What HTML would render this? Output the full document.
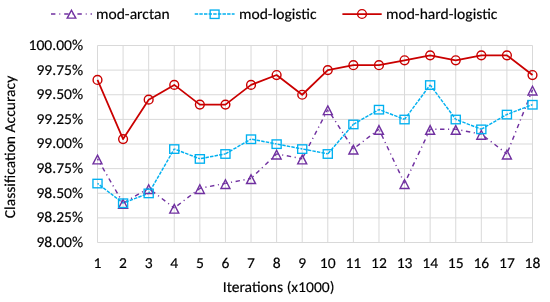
<!DOCTYPE html>
<html><head><meta charset="utf-8"><title>Classification Accuracy chart</title>
<style>html,body{margin:0;padding:0;background:#fff;width:550px;height:302px;overflow:hidden}svg{display:block}</style>
</head><body>
<svg width="550" height="302" viewBox="0 0 550 302"><g stroke="#D9D9D9" stroke-width="1" fill="none"><line x1="97.50" y1="45.50" x2="532.50" y2="45.50"/><line x1="97.50" y1="70.12" x2="532.50" y2="70.12"/><line x1="97.50" y1="94.75" x2="532.50" y2="94.75"/><line x1="97.50" y1="119.38" x2="532.50" y2="119.38"/><line x1="97.50" y1="144.00" x2="532.50" y2="144.00"/><line x1="97.50" y1="168.62" x2="532.50" y2="168.62"/><line x1="97.50" y1="193.25" x2="532.50" y2="193.25"/><line x1="97.50" y1="217.88" x2="532.50" y2="217.88"/><line x1="97.50" y1="242.50" x2="532.50" y2="242.50"/><line x1="97.50" y1="45.50" x2="97.50" y2="242.50"/><line x1="123.09" y1="45.50" x2="123.09" y2="242.50"/><line x1="148.68" y1="45.50" x2="148.68" y2="242.50"/><line x1="174.26" y1="45.50" x2="174.26" y2="242.50"/><line x1="199.85" y1="45.50" x2="199.85" y2="242.50"/><line x1="225.44" y1="45.50" x2="225.44" y2="242.50"/><line x1="251.03" y1="45.50" x2="251.03" y2="242.50"/><line x1="276.62" y1="45.50" x2="276.62" y2="242.50"/><line x1="302.21" y1="45.50" x2="302.21" y2="242.50"/><line x1="327.79" y1="45.50" x2="327.79" y2="242.50"/><line x1="353.38" y1="45.50" x2="353.38" y2="242.50"/><line x1="378.97" y1="45.50" x2="378.97" y2="242.50"/><line x1="404.56" y1="45.50" x2="404.56" y2="242.50"/><line x1="430.15" y1="45.50" x2="430.15" y2="242.50"/><line x1="455.74" y1="45.50" x2="455.74" y2="242.50"/><line x1="481.32" y1="45.50" x2="481.32" y2="242.50"/><line x1="506.91" y1="45.50" x2="506.91" y2="242.50"/><line x1="532.50" y1="45.50" x2="532.50" y2="242.50"/></g><g font-family='"Carlito","Liberation Sans",sans-serif' font-size="15.2" text-rendering="geometricPrecision" fill="#000000" stroke="#000000" stroke-width="0.16"><text x="83.10" y="49.90" text-anchor="end" textLength="54.60" lengthAdjust="spacingAndGlyphs">100.00%</text><text x="83.10" y="74.53" text-anchor="end" textLength="46.70" lengthAdjust="spacingAndGlyphs">99.75%</text><text x="83.10" y="99.15" text-anchor="end" textLength="46.70" lengthAdjust="spacingAndGlyphs">99.50%</text><text x="83.10" y="123.78" text-anchor="end" textLength="46.70" lengthAdjust="spacingAndGlyphs">99.25%</text><text x="83.10" y="148.40" text-anchor="end" textLength="46.70" lengthAdjust="spacingAndGlyphs">99.00%</text><text x="83.10" y="173.03" text-anchor="end" textLength="46.70" lengthAdjust="spacingAndGlyphs">98.75%</text><text x="83.10" y="197.65" text-anchor="end" textLength="46.70" lengthAdjust="spacingAndGlyphs">98.50%</text><text x="83.10" y="222.28" text-anchor="end" textLength="46.70" lengthAdjust="spacingAndGlyphs">98.25%</text><text x="83.10" y="246.90" text-anchor="end" textLength="46.70" lengthAdjust="spacingAndGlyphs">98.00%</text><text x="97.50" y="268.00" text-anchor="middle" textLength="7.90" lengthAdjust="spacingAndGlyphs">1</text><text x="123.09" y="268.00" text-anchor="middle" textLength="7.90" lengthAdjust="spacingAndGlyphs">2</text><text x="148.68" y="268.00" text-anchor="middle" textLength="7.90" lengthAdjust="spacingAndGlyphs">3</text><text x="174.26" y="268.00" text-anchor="middle" textLength="7.90" lengthAdjust="spacingAndGlyphs">4</text><text x="199.85" y="268.00" text-anchor="middle" textLength="7.90" lengthAdjust="spacingAndGlyphs">5</text><text x="225.44" y="268.00" text-anchor="middle" textLength="7.90" lengthAdjust="spacingAndGlyphs">6</text><text x="251.03" y="268.00" text-anchor="middle" textLength="7.90" lengthAdjust="spacingAndGlyphs">7</text><text x="276.62" y="268.00" text-anchor="middle" textLength="7.90" lengthAdjust="spacingAndGlyphs">8</text><text x="302.21" y="268.00" text-anchor="middle" textLength="7.90" lengthAdjust="spacingAndGlyphs">9</text><text x="327.79" y="268.00" text-anchor="middle" textLength="15.81" lengthAdjust="spacingAndGlyphs">10</text><text x="353.38" y="268.00" text-anchor="middle" textLength="15.81" lengthAdjust="spacingAndGlyphs">11</text><text x="378.97" y="268.00" text-anchor="middle" textLength="15.81" lengthAdjust="spacingAndGlyphs">12</text><text x="404.56" y="268.00" text-anchor="middle" textLength="15.81" lengthAdjust="spacingAndGlyphs">13</text><text x="430.15" y="268.00" text-anchor="middle" textLength="15.81" lengthAdjust="spacingAndGlyphs">14</text><text x="455.74" y="268.00" text-anchor="middle" textLength="15.81" lengthAdjust="spacingAndGlyphs">15</text><text x="481.32" y="268.00" text-anchor="middle" textLength="15.81" lengthAdjust="spacingAndGlyphs">16</text><text x="506.91" y="268.00" text-anchor="middle" textLength="15.81" lengthAdjust="spacingAndGlyphs">17</text><text x="532.50" y="268.00" text-anchor="middle" textLength="15.81" lengthAdjust="spacingAndGlyphs">18</text><text x="278.60" y="291.60" text-anchor="middle" textLength="111.74" lengthAdjust="spacingAndGlyphs">Iterations (x1000)</text><text transform="translate(15.20,147.00) rotate(-90)" text-anchor="middle" textLength="142.45" lengthAdjust="spacingAndGlyphs">Classification Accuracy</text><text x="96.00" y="18.80" textLength="73.61" lengthAdjust="spacingAndGlyphs">mod-arctan</text><text x="239.00" y="18.80" textLength="77.57" lengthAdjust="spacingAndGlyphs">mod-logistic</text><text x="386.00" y="18.80" textLength="111.42" lengthAdjust="spacingAndGlyphs">mod-hard-logistic</text></g><g fill="none" stroke="#7030A0" stroke-width="1.45" stroke-dasharray="4.4 3.6 1.1 3.6" stroke-dashoffset="1.40"><line x1="123.09" y1="203.10" x2="97.50" y2="158.78"/><line x1="148.68" y1="188.33" x2="123.09" y2="203.10"/><line x1="174.26" y1="208.03" x2="148.68" y2="188.33"/><line x1="199.85" y1="188.33" x2="174.26" y2="208.03"/><line x1="225.44" y1="183.40" x2="199.85" y2="188.33"/><line x1="251.03" y1="178.47" x2="225.44" y2="183.40"/><line x1="276.62" y1="153.85" x2="251.03" y2="178.47"/><line x1="302.21" y1="158.78" x2="276.62" y2="153.85"/><line x1="327.79" y1="109.53" x2="302.21" y2="158.78"/><line x1="353.38" y1="148.92" x2="327.79" y2="109.53"/><line x1="378.97" y1="129.22" x2="353.38" y2="148.92"/><line x1="404.56" y1="183.40" x2="378.97" y2="129.22"/><line x1="430.15" y1="129.22" x2="404.56" y2="183.40"/><line x1="455.74" y1="129.22" x2="430.15" y2="129.22"/><line x1="481.32" y1="134.15" x2="455.74" y2="129.22"/><line x1="506.91" y1="153.85" x2="481.32" y2="134.15"/><line x1="532.50" y1="89.83" x2="506.91" y2="153.85"/></g><g fill="none" stroke="#00B0F0" stroke-width="1.45" stroke-dasharray="3.45 1.18" stroke-dashoffset="1.65"><line x1="123.09" y1="203.10" x2="97.50" y2="183.40"/><line x1="148.68" y1="193.25" x2="123.09" y2="203.10"/><line x1="174.26" y1="148.92" x2="148.68" y2="193.25"/><line x1="199.85" y1="158.78" x2="174.26" y2="148.92"/><line x1="225.44" y1="153.85" x2="199.85" y2="158.78"/><line x1="251.03" y1="139.08" x2="225.44" y2="153.85"/><line x1="276.62" y1="144.00" x2="251.03" y2="139.08"/><line x1="302.21" y1="148.92" x2="276.62" y2="144.00"/><line x1="327.79" y1="153.85" x2="302.21" y2="148.92"/><line x1="353.38" y1="124.30" x2="327.79" y2="153.85"/><line x1="378.97" y1="109.53" x2="353.38" y2="124.30"/><line x1="404.56" y1="119.38" x2="378.97" y2="109.53"/><line x1="430.15" y1="84.90" x2="404.56" y2="119.38"/><line x1="455.74" y1="119.38" x2="430.15" y2="84.90"/><line x1="481.32" y1="129.22" x2="455.74" y2="119.38"/><line x1="506.91" y1="114.45" x2="481.32" y2="129.22"/><line x1="532.50" y1="104.60" x2="506.91" y2="114.45"/></g><polyline points="97.50,79.97 123.09,139.08 148.68,99.67 174.26,84.90 199.85,104.60 225.44,104.60 251.03,84.90 276.62,75.05 302.21,94.75 327.79,70.12 353.38,65.20 378.97,65.20 404.56,60.28 430.15,55.35 455.74,60.28 481.32,55.35 506.91,55.35 532.50,75.05" fill="none" stroke="#CA0000" stroke-width="1.75" stroke-linejoin="round"/><g fill="none" stroke="#7030A0" stroke-width="1.4" stroke-linejoin="miter"><path d="M97.50,155.18 L102.00,163.88 L93.00,163.88 Z"/><path d="M123.09,199.50 L127.59,208.20 L118.59,208.20 Z"/><path d="M148.68,184.73 L153.18,193.43 L144.18,193.43 Z"/><path d="M174.26,204.43 L178.76,213.13 L169.76,213.13 Z"/><path d="M199.85,184.73 L204.35,193.43 L195.35,193.43 Z"/><path d="M225.44,179.80 L229.94,188.50 L220.94,188.50 Z"/><path d="M251.03,174.87 L255.53,183.57 L246.53,183.57 Z"/><path d="M276.62,150.25 L281.12,158.95 L272.12,158.95 Z"/><path d="M302.21,155.18 L306.71,163.88 L297.71,163.88 Z"/><path d="M327.79,105.93 L332.29,114.63 L323.29,114.63 Z"/><path d="M353.38,145.32 L357.88,154.02 L348.88,154.02 Z"/><path d="M378.97,125.62 L383.47,134.32 L374.47,134.32 Z"/><path d="M404.56,179.80 L409.06,188.50 L400.06,188.50 Z"/><path d="M430.15,125.62 L434.65,134.32 L425.65,134.32 Z"/><path d="M455.74,125.62 L460.24,134.32 L451.24,134.32 Z"/><path d="M481.32,130.55 L485.82,139.25 L476.82,139.25 Z"/><path d="M506.91,150.25 L511.41,158.95 L502.41,158.95 Z"/><path d="M532.50,86.23 L537.00,94.93 L528.00,94.93 Z"/></g><g fill="none" stroke="#00B0F0" stroke-width="1.35"><rect x="92.95" y="179.30" width="9.1" height="8.5"/><rect x="118.54" y="199.00" width="9.1" height="8.5"/><rect x="144.13" y="189.15" width="9.1" height="8.5"/><rect x="169.71" y="144.82" width="9.1" height="8.5"/><rect x="195.30" y="154.68" width="9.1" height="8.5"/><rect x="220.89" y="149.75" width="9.1" height="8.5"/><rect x="246.48" y="134.98" width="9.1" height="8.5"/><rect x="272.07" y="139.90" width="9.1" height="8.5"/><rect x="297.66" y="144.82" width="9.1" height="8.5"/><rect x="323.24" y="149.75" width="9.1" height="8.5"/><rect x="348.83" y="120.20" width="9.1" height="8.5"/><rect x="374.42" y="105.43" width="9.1" height="8.5"/><rect x="400.01" y="115.28" width="9.1" height="8.5"/><rect x="425.60" y="80.80" width="9.1" height="8.5"/><rect x="451.19" y="115.28" width="9.1" height="8.5"/><rect x="476.77" y="125.12" width="9.1" height="8.5"/><rect x="502.36" y="110.35" width="9.1" height="8.5"/><rect x="527.95" y="100.50" width="9.1" height="8.5"/></g><g fill="none" stroke="#CA0000" stroke-width="1.4"><circle cx="97.50" cy="79.97" r="4.4"/><circle cx="123.09" cy="139.08" r="4.4"/><circle cx="148.68" cy="99.67" r="4.4"/><circle cx="174.26" cy="84.90" r="4.4"/><circle cx="199.85" cy="104.60" r="4.4"/><circle cx="225.44" cy="104.60" r="4.4"/><circle cx="251.03" cy="84.90" r="4.4"/><circle cx="276.62" cy="75.05" r="4.4"/><circle cx="302.21" cy="94.75" r="4.4"/><circle cx="327.79" cy="70.12" r="4.4"/><circle cx="353.38" cy="65.20" r="4.4"/><circle cx="378.97" cy="65.20" r="4.4"/><circle cx="404.56" cy="60.28" r="4.4"/><circle cx="430.15" cy="55.35" r="4.4"/><circle cx="455.74" cy="60.28" r="4.4"/><circle cx="481.32" cy="55.35" r="4.4"/><circle cx="506.91" cy="55.35" r="4.4"/><circle cx="532.50" cy="75.05" r="4.4"/></g><line x1="51.0" y1="14.0" x2="91.9" y2="14.0" stroke="#7030A0" stroke-width="1.45" stroke-dasharray="4.4 3.95 0.9 3.95"/><g fill="none" stroke="#7030A0" stroke-width="1.4"><path d="M71.50,10.25 L75.80,18.15 L67.20,18.15 Z"/></g><line x1="194.7" y1="14.0" x2="234.6" y2="14.0" stroke="#00B0F0" stroke-width="1.45" stroke-dasharray="3.45 1.18"/><g fill="none" stroke="#00B0F0" stroke-width="1.35"><rect x="210.15" y="10.05" width="8.9" height="8.4"/></g><line x1="342.4" y1="14.0" x2="381.7" y2="14.0" stroke="#CA0000" stroke-width="1.75"/><g fill="none" stroke="#CA0000" stroke-width="1.4"><circle cx="362.00" cy="14.00" r="4.4"/></g></svg>
</body></html>
